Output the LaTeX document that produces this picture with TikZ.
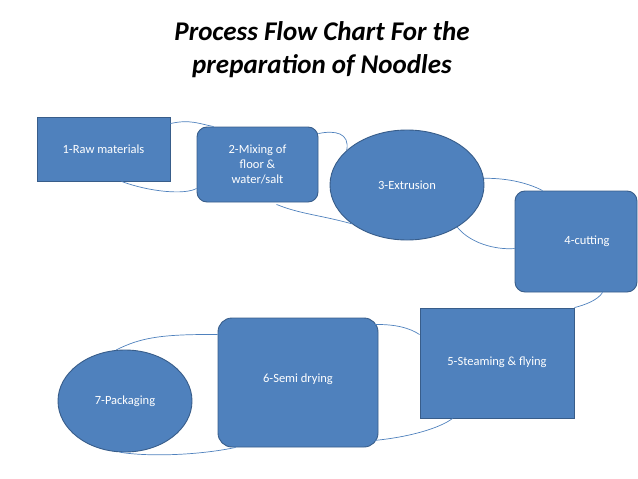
\documentclass[tikz,border=0pt]{standalone}
\usepackage{fontspec}
\setmainfont{Carlito}
\usetikzlibrary{calc,shapes.geometric}
\definecolor{fillb}{HTML}{4F81BD}
\definecolor{edgeb}{HTML}{385D8A}
\tikzset{
 base/.style={fill=fillb,draw=edgeb,line width=0.9pt,text=white,font=\fontsize{12.5}{15}\selectfont,align=center,inner sep=0pt},
 sq/.style={base,rectangle},
 rnd/.style={base,rectangle,rounded corners=10pt},
 ell/.style={base,ellipse},
 link/.style={draw=fillb,line width=0.7pt},
}
\begin{document}
\begin{tikzpicture}[x=1pt,y=-1pt]
\useasboundingbox (0,0) rectangle (638,479);
\node[font=\fontsize{27}{33}\selectfont\bfseries\itshape,align=center] (title) at (322,50) {Process Flow Chart For the\\preparation of Noodles};
\node[sq,minimum width=133pt,minimum height=64pt] (n1) at (103.5,149) {1-Raw materials};
\node[rnd,minimum width=121pt,minimum height=75pt] (n2) at (257.5,164.5) {2-Mixing of\\floor \&\\water/salt};
\node[ell,minimum width=154pt,minimum height=110pt] (n3) at (407,185) {3-Extrusion};
\node[rnd,minimum width=122pt,minimum height=101pt] (n4) at (576,241.5) {\hspace*{22pt}4-cutting};
\node[sq,minimum width=154pt,minimum height=110pt] (n5) at (497,363) {\raisebox{4pt}{5-Steaming \& flying}};
\node[rnd,minimum width=160pt,minimum height=129pt,rounded corners=14pt] (n6) at (298,382.5) {\raisebox{8pt}{6-Semi drying}};
\node[ell,minimum width=134pt,minimum height=102pt] (n7) at (125,401) {7-Packaging};
\begin{scope}[on background layer/.try]
\end{scope}
% connectors
\draw[link] ($(n1.north east)+(0,7)$) .. controls (190,119) and (200,124) .. ($(n2.north west)+(17,0)$);
\draw[link] ($(n1.south west)+(85,0)$) .. controls (150,192) and (185,195) .. ($(n2.south west)+(0,-14)$);
\draw[link] ($(n2.north east)+(0,7)$) .. controls (335,130) and (350,133) .. (n3.150);
\draw[link] ($(n2.south west)+(80,2)$) .. controls (300,214) and (320,215) .. (n3.215);
\draw[link] (n3.5) .. controls (510,178) and (530,184) .. ($(n4.north west)+(28,0)$);
\draw[link] (n3.-40) .. controls (470,243) and (495,250) .. ($(n4.north west)+(0,58)$);
\draw[link] ($(n4.south west)+(88,0)$) .. controls (598,300) and (585,305) .. ($(n5.north east)+(0,0)$);
\draw[link] ($(n6.north east)+(-4,7)$) .. controls (395,324) and (410,328) .. ($(n5.north west)+(0,27)$);
\draw[link] ($(n6.south east)+(-4,-7)$) .. controls (410,437) and (440,428) .. ($(n5.south west)+(33,0)$);
\draw[link] ($(n6.north west)+(0,17)$) .. controls (160,334) and (140,338) .. (n7.100);
\draw[link] ($(n6.south west)+(18,0)$) .. controls (200,455) and (150,457) .. (n7.-95);
\end{tikzpicture}
\end{document}
